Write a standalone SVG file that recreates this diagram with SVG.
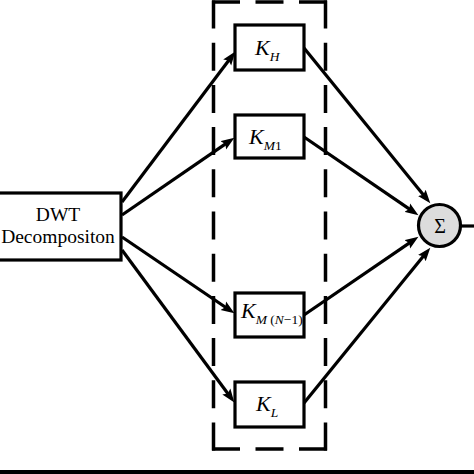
<svg xmlns="http://www.w3.org/2000/svg" width="474" height="474" viewBox="0 0 474 474">
<defs>
<style>
.box{fill:#fff;stroke:#000;stroke-width:3.2}
.dash{stroke:#000;stroke-width:3.5;fill:none}
.conn line{stroke:#000;stroke-width:3.2;marker-end:url(#arr)}
.t{font-family:"Liberation Serif","Times New Roman",serif;fill:#000}
.k{font-family:"Liberation Serif","Times New Roman",serif;font-style:italic;font-size:22px;fill:#000}
.s{font-size:13.5px}
</style>
<marker id="arr" markerUnits="userSpaceOnUse" markerWidth="14" markerHeight="11" viewBox="0 0 14 11" refX="4" refY="5.5" orient="auto">
<path d="M0,0.5 L13.5,5.5 L0,10.5 L2.5,5.5 z" fill="#000"/>
</marker>
</defs>
<rect width="474" height="474" fill="#fff"/>

<g id="group-box">
<line class="dash" x1="212" y1="2" x2="327" y2="2" stroke-dasharray="28 15.5"/>
<line class="dash" x1="212" y1="449" x2="327" y2="449" stroke-dasharray="28 15.5"/>
<line class="dash" x1="213.5" y1="0.5" x2="213.5" y2="450.5" stroke-dasharray="28 14.2"/>
<line class="dash" x1="325.5" y1="0.5" x2="325.5" y2="450.5" stroke-dasharray="28 14.2"/>
</g>

<g id="connectors" class="conn">
<line x1="122" y1="202" x2="229.6" y2="59.2"/>
<line x1="122" y1="215" x2="226.6" y2="143.1"/>
<line x1="122" y1="237" x2="226.6" y2="308"/>
<line x1="122" y1="250" x2="228.7" y2="394.8"/>
<line x1="304" y1="48" x2="424.3" y2="196"/>
<line x1="304" y1="137" x2="410.6" y2="209.9"/>
<line x1="304" y1="315" x2="410.6" y2="242.1"/>
<line x1="304" y1="403" x2="424.3" y2="255"/>
<line x1="461" y1="226" x2="474" y2="226" style="marker-end:none"/>
</g>

<g id="dwt">
<rect class="box" x="-3" y="193" width="124" height="67"/>
<text class="t" x="58" y="221" font-size="19.5" text-anchor="middle">DWT</text>
<text class="t" x="58" y="243" font-size="19.5" text-anchor="middle">Decompositon</text>
</g>

<g id="kh">
<rect class="box" x="235" y="25" width="69" height="45"/>
<text class="k" x="255" y="55">K<tspan class="s" dy="6">H</tspan></text>
</g>

<g id="km1">
<rect class="box" x="235" y="115" width="69" height="43"/>
<text class="k" x="249" y="144">K<tspan class="s" dy="6">M</tspan><tspan class="s" font-style="normal">1</tspan></text>
</g>

<g id="kmn1">
<rect class="box" x="235" y="293" width="69" height="44"/>
<text class="k" x="241" y="318">K<tspan class="s" dy="6">M</tspan><tspan class="s" font-style="normal"> (</tspan><tspan class="s">N</tspan><tspan class="s" font-style="normal">−1)</tspan></text>
</g>

<g id="kl">
<rect class="box" x="235" y="382" width="69" height="45"/>
<text class="k" x="256" y="411">K<tspan class="s" dy="6">L</tspan></text>
</g>

<g id="sum">
<circle cx="439.5" cy="225.5" r="21" fill="#dcdcdc" stroke="#000" stroke-width="3.2"/>
<text class="t" x="440" y="232.5" font-size="20" text-anchor="middle">Σ</text>
</g>

<rect id="baseline" x="0" y="470" width="474" height="4" fill="#000"/>
</svg>
